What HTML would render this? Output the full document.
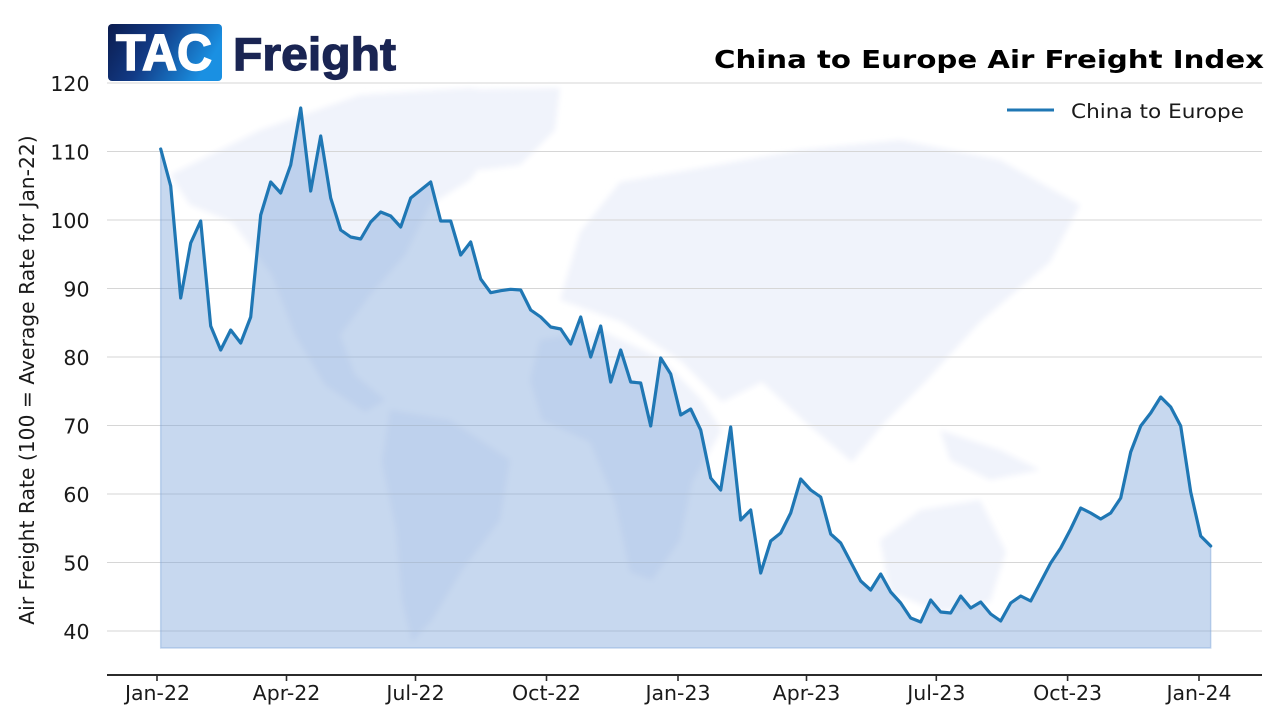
<!DOCTYPE html>
<html>
<head>
<meta charset="utf-8">
<style>
html,body{margin:0;padding:0;background:#fff;}
svg{display:block;}
</style>
</head>
<body>
<svg width="1280" height="720" viewBox="0 0 1280 720" xmlns="http://www.w3.org/2000/svg">
  <defs>
    <linearGradient id="lg" x1="0" y1="0" x2="1" y2="0.3">
      <stop offset="0" stop-color="#0b1c4e"/>
      <stop offset="0.45" stop-color="#123a85"/>
      <stop offset="1" stop-color="#1a90e2"/>
    </linearGradient>
    <filter id="bl" x="-10%" y="-10%" width="120%" height="120%">
      <feGaussianBlur stdDeviation="3"/>
    </filter>
  </defs>
  <rect width="1280" height="720" fill="#fff"/>

  <!-- faint world map -->
  <g fill="#f0f3fb" filter="url(#bl)">
    <polygon points="170,175 260,130 360,95 470,88 520,95 500,140 470,180 430,205 405,255 370,295 340,335 355,375 385,400 365,412 325,385 295,335 272,275 232,222 190,205"/>
    <polygon points="450,90 560,88 555,130 520,165 480,170 455,130"/>
    <polygon points="390,410 450,420 510,460 500,520 462,570 432,620 412,642 402,600 396,530 382,462"/>
    <polygon points="540,340 600,330 660,358 700,398 722,430 692,482 680,540 652,580 630,572 615,502 590,442 542,420 530,380"/>
    <polygon points="560,300 580,232 620,182 700,168 800,150 900,140 1000,160 1080,205 1050,262 980,322 925,382 885,422 852,462 805,422 762,382 722,402 682,362 622,322"/>
    <polygon points="880,540 920,510 980,500 1006,552 990,602 940,612 890,592"/>
    <polygon points="940,430 1000,450 1040,470 990,480 950,460"/>
  </g>

  <!-- gridlines -->
  <g stroke="#d6d6d6" stroke-width="1">
    <line x1="107" y1="83" x2="1262" y2="83"/>
    <line x1="107" y1="151.5" x2="1262" y2="151.5"/>
    <line x1="107" y1="220" x2="1262" y2="220"/>
    <line x1="107" y1="288.5" x2="1262" y2="288.5"/>
    <line x1="107" y1="357" x2="1262" y2="357"/>
    <line x1="107" y1="425.5" x2="1262" y2="425.5"/>
    <line x1="107" y1="494" x2="1262" y2="494"/>
    <line x1="107" y1="562.5" x2="1262" y2="562.5"/>
    <line x1="107" y1="631" x2="1262" y2="631"/>
  </g>

  <!-- area fill -->
  <polygon fill="#7aa2da" fill-opacity="0.42" stroke="#7aa2da" stroke-opacity="0.42" stroke-width="1.5"
    points="160.7,149 170.7,186 180.7,298 190.7,243 200.7,221 210.7,326 220.7,350 230.7,330 240.7,343 250.7,317 260.7,215 270.7,182 280.7,193 290.7,165 300.7,108 310.7,191 320.7,136 330.7,198 340.7,230 350.7,237 360.7,239 370.7,222 380.7,212 390.7,216 400.7,227 410.7,198 420.7,190 430.7,182 440.7,221 450.7,221 460.7,255 470.7,242 480.7,279 490.7,292.7 500.7,290.7 510.7,289.3 520.7,290 530.7,310 540.7,317 550.7,327 560.7,329 570.7,344 580.7,317 590.7,357 600.7,326 610.7,382 620.7,350 630.7,382 640.7,383 650.7,426 660.7,358 670.7,374 680.7,415 690.7,409 700.7,430 710.7,478 720.7,490 730.7,427 740.7,520 750.7,510 760.7,573 770.7,541 780.7,533 790.7,513 800.7,479 810.7,490 820.7,497 830.7,534 840.7,543 850.7,562 860.7,581 870.7,590 880.7,574 890.7,592 900.7,603 910.7,618 920.7,622 930.7,600 940.7,612 950.7,613 960.7,596 970.7,608 980.7,602 990.7,614 1000.7,621 1010.7,603 1020.7,596 1030.7,601 1040.7,582 1050.7,563 1060.7,548 1070.7,529 1080.7,508 1090.7,513 1100.7,519 1110.7,513 1120.7,498 1130.7,452 1140.7,426 1150.7,413 1160.7,397 1170.7,407 1180.7,426 1190.7,492 1200.7,536 1210.7,546 1210.7,648 160.7,648"/>

  <!-- line -->
  <polyline fill="none" stroke="#1f77b4" stroke-width="3.2" stroke-linejoin="round" stroke-linecap="round"
    points="160.7,149 170.7,186 180.7,298 190.7,243 200.7,221 210.7,326 220.7,350 230.7,330 240.7,343 250.7,317 260.7,215 270.7,182 280.7,193 290.7,165 300.7,108 310.7,191 320.7,136 330.7,198 340.7,230 350.7,237 360.7,239 370.7,222 380.7,212 390.7,216 400.7,227 410.7,198 420.7,190 430.7,182 440.7,221 450.7,221 460.7,255 470.7,242 480.7,279 490.7,292.7 500.7,290.7 510.7,289.3 520.7,290 530.7,310 540.7,317 550.7,327 560.7,329 570.7,344 580.7,317 590.7,357 600.7,326 610.7,382 620.7,350 630.7,382 640.7,383 650.7,426 660.7,358 670.7,374 680.7,415 690.7,409 700.7,430 710.7,478 720.7,490 730.7,427 740.7,520 750.7,510 760.7,573 770.7,541 780.7,533 790.7,513 800.7,479 810.7,490 820.7,497 830.7,534 840.7,543 850.7,562 860.7,581 870.7,590 880.7,574 890.7,592 900.7,603 910.7,618 920.7,622 930.7,600 940.7,612 950.7,613 960.7,596 970.7,608 980.7,602 990.7,614 1000.7,621 1010.7,603 1020.7,596 1030.7,601 1040.7,582 1050.7,563 1060.7,548 1070.7,529 1080.7,508 1090.7,513 1100.7,519 1110.7,513 1120.7,498 1130.7,452 1140.7,426 1150.7,413 1160.7,397 1170.7,407 1180.7,426 1190.7,492 1200.7,536 1210.7,546"/>

  <!-- x axis -->
  <line x1="107" y1="675" x2="1262" y2="675" stroke="#2b2b2b" stroke-width="2"/>
  <g stroke="#2b2b2b" stroke-width="1.6">
    <line x1="157" y1="675" x2="157" y2="681"/>
    <line x1="286.5" y1="675" x2="286.5" y2="681"/>
    <line x1="415.5" y1="675" x2="415.5" y2="681"/>
    <line x1="546.5" y1="675" x2="546.5" y2="681"/>
    <line x1="678" y1="675" x2="678" y2="681"/>
    <line x1="806.5" y1="675" x2="806.5" y2="681"/>
    <line x1="936.3" y1="675" x2="936.3" y2="681"/>
    <line x1="1067.6" y1="675" x2="1067.6" y2="681"/>
    <line x1="1199" y1="675" x2="1199" y2="681"/>
  </g>
  <g font-family="'DejaVu Sans', 'Liberation Sans', sans-serif" font-size="20.5" fill="#1a1a1a" text-anchor="middle">
    <text x="157.5" y="700">Jan-22</text>
    <text x="286.5" y="700">Apr-22</text>
    <text x="415.5" y="700">Jul-22</text>
    <text x="546.5" y="700">Oct-22</text>
    <text x="678" y="700">Jan-23</text>
    <text x="806.5" y="700">Apr-23</text>
    <text x="936.3" y="700">Jul-23</text>
    <text x="1067.6" y="700">Oct-23</text>
    <text x="1199" y="700">Jan-24</text>
  </g>

  <!-- y tick labels -->
  <g font-family="'DejaVu Sans', 'Liberation Sans', sans-serif" font-size="20.5" fill="#1a1a1a" text-anchor="end">
    <text x="89.5" y="91">120</text>
    <text x="89.5" y="159.5">110</text>
    <text x="89.5" y="228">100</text>
    <text x="89.5" y="296.5">90</text>
    <text x="89.5" y="365">80</text>
    <text x="89.5" y="433.5">70</text>
    <text x="89.5" y="502">60</text>
    <text x="89.5" y="570.5">50</text>
    <text x="89.5" y="639">40</text>
  </g>

  <!-- y axis label -->
  <text transform="translate(34,380) rotate(-90)" font-family="'DejaVu Sans', 'Liberation Sans', sans-serif" font-size="20.3" fill="#1a1a1a" text-anchor="middle">Air Freight Rate (100 = Average Rate for Jan-22)</text>

  <!-- title -->
  <text x="714" y="68" font-family="'DejaVu Sans', 'Liberation Sans', sans-serif" font-weight="bold" font-size="25" fill="#000" textLength="550" lengthAdjust="spacingAndGlyphs">China to Europe Air Freight Index</text>

  <!-- legend -->
  <line x1="1007" y1="110" x2="1054" y2="110" stroke="#1f77b4" stroke-width="3"/>
  <text x="1071" y="118" font-family="'DejaVu Sans', 'Liberation Sans', sans-serif" font-size="19.5" fill="#1a1a1a" textLength="173" lengthAdjust="spacingAndGlyphs">China to Europe</text>

  <!-- logo -->
  <rect x="108" y="24" width="114" height="57" rx="4" fill="url(#lg)"/>
  <text x="116" y="70" font-family="'Liberation Sans', 'DejaVu Sans', sans-serif" font-weight="bold" font-size="51" fill="#fff" stroke="#fff" stroke-width="1.5" textLength="96" lengthAdjust="spacingAndGlyphs">TAC</text>
  <text x="233" y="70" font-family="'Liberation Sans', 'DejaVu Sans', sans-serif" font-weight="bold" font-size="46" fill="#1a2553" stroke="#1a2553" stroke-width="1.2" textLength="163" lengthAdjust="spacingAndGlyphs">Freight</text>
</svg>
</body>
</html>
